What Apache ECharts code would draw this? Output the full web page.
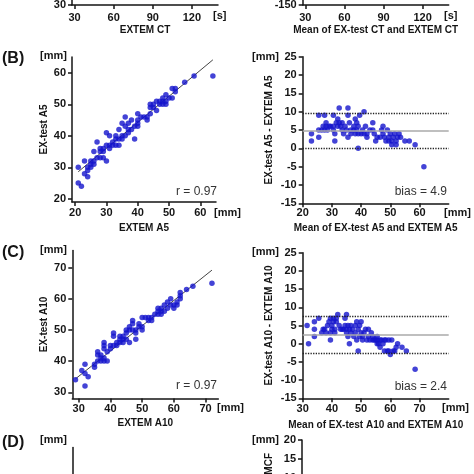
<!DOCTYPE html>
<html>
<head>
<meta charset="utf-8">
<script src="https://cdn.jsdelivr.net/npm/echarts@6/dist/echarts.min.js"></script>
<style>
html, body { margin: 0; padding: 0; background: #fff; }
#main { width: 474px; height: 474px; }
</style>
</head>
<body>
<div id="main"></div>
<script>
// (B) EX-test A5 vs EXTEM A5, [EXTEM, EX-test]
var scatterA5 = [[21,30],[21,25],[22,24],[23,32],[23,28],[24,27],[24,29],[24,30],[25,30],[25,31],[25,32],
    [26,31],[26,32],[26,35],[27,33],[27,38],[28,33],[28,35],[28,36],[29,33],[29,35],[29,36],[30,32],[30,37],
    [30,41],[31,36],[31,37],[31,40],[32,37],[32,38],[33,37],[33,39],[33,40],[34,37],[34,39],[34,42],[35,39],
    [35,40],[35,44],[36,40],[36,43],[36,46],[37,41],[37,42],[37,44],[38,42],[38,45],[39,39],[39,43],[40,43],
    [40,44],[40,45],[40,47],[41,46],[42,46],[43,45],[43,46],[44,47],[44,49],[44,50],[45,49],[45,50],[46,48],
    [46,51],[47,50],[47,51],[48,50],[48,51],[48,52],[49,50],[49,51],[49,53],[50,52],[51,52],[51,55],[52,54],
    [52,55],[55,57],[58,59],[64,59]];
var fitA5 = [[21, 28.6], [64, 64.1]];
// Bland-Altman A5, [mean, difference]
var blandA5 = [[23,4],[23,2],[25.5,9],[25.5,3],[25.5,5],[26.5,5],[27,6],[27.5,9],[27.5,5],[28,6],[28,7],
    [28.5,5],[29,6],[29.5,6],[30.5,9],[30.5,5],[30.5,6],[31,4],[31,2],[31.5,7],[32,6],[32,8],[32.5,11],
    [32.5,7],[33,6],[33.5,7],[33.5,5],[34,4],[34.5,6],[35,5],[35.5,3],[35.5,11],[35.5,9],[36,7],[36.5,5],
    [36.5,4],[37.5,6],[37.5,5],[38,4],[38,8],[38.5,5],[38.5,7],[39,4],[39,6],[39.5,9],[39,0],[40,4],[40.5,5],
    [41,4],[41,10],[41.5,6],[42,4],[42,3],[43,5],[44,5],[44,7],[44.5,4],[45,2],[45.5,3],[46.5,3],[47,5],
    [47.5,4],[47.5,6],[48,3],[48.5,2],[49,5],[49.5,3],[49.5,2],[50,4],[50.5,2],[50.5,1],[51,3],[51.5,4],
    [52,2],[52,1],[52.5,3],[53,4],[53.5,3],[55,2],[56.5,2],[58.5,1],[61.5,-5]];
var limitsA5 = [9.7, 4.9, 0.1];   // upper LoA, bias, lower LoA

// (C) EX-test A10 vs EXTEM A10
var scatterA10 = [[29,34],[31,37],[32,39],[32,32],[32,36],[33,35],[35,38],[35,39],[36,40],[36,42],[36,43],
    [37,40],[37,41],[37,42],[38,40],[38,44],[38,45],[38,46],[38,41],[39,43],[39,40],[40,44],[40,45],[41,45],
    [41,49],[41,48],[42,45],[42,46],[43,46],[43,47],[43,48],[44,46],[44,47],[44,48],[45,47],[45,50],[45,49],
    [46,46],[46,50],[46,51],[47,53],[47,52],[47,50],[48,49],[48,50],[48,47],[49,51],[49,52],[50,50],[50,51],
    [50,54],[51,54],[52,53],[52,54],[53,53],[53,54],[54,55],[55,55],[55,56],[55,57],[56,55],[56,56],[56,57],
    [57,58],[57,56],[58,57],[58,59],[59,58],[59,60],[60,57],[60,58],[61,58],[61,59],[62,60],[62,61],[62,62],
    [64,63],[66,64],[72,65]];
var fitA10 = [[29, 34.3], [72, 69.2]];
var blandA10 = [[31.5,5],[32,0],[34,6],[34,4],[34,2],[35.5,7],[36.5,3],[37,4],[37.5,4],[38,3],[38.5,5],
    [39,6],[39.5,7],[39.5,1],[39.5,3],[40,4],[40,5],[40.5,7],[40.5,6],[41,3],[41,4],[41.5,6],[41.5,7],[42,8],
    [42.5,5],[43,4],[43.5,4],[44,4],[44.5,5],[44.5,7],[45,8],[45,3],[45,4],[45.5,2],[45.5,5],[46,4],[46,0],
    [46.5,3],[46.5,5],[47,4],[47.5,2],[48,5],[48,3],[48.5,1],[48.5,6],[49,-2],[49,4],[49.5,2],[49.5,5],[50,3],
    [50,6],[50.5,2],[50.5,1],[51,3],[51.5,4],[52,1],[52.5,4],[52.5,2],[53,1],[53.5,3],[54,1],[54,2],[54.5,1],
    [55,1],[55.5,0],[55.5,1],[55.5,2],[56,0],[56.5,1],[56.5,-1],[57,1],[57.5,0],[58,1],[58,-2],[58.5,1],
    [59,-2],[59.5,1],[59.5,-2],[60,-3],[60.5,1],[61,-2],[61.5,-2],[62,-1],[62.5,0],[64,-1],[65.5,-2],[68.5,-7]];
var limitsA10 = [7.5, 2.4, -2.7];

// tick labels
var ticksCT = [30, 60, 90, 120];
var ticksA5 = [20, 30, 40, 50, 60];
var ticksA10 = [30, 40, 50, 60, 70];
var ticksDiff = [-15, -10, -5, 0, 5, 10, 15, 20, 25];
var ticksDiffD = [-20, -15, -10, -5, 0, 5, 10, 15, 20];

var FONT = '"Liberation Sans", Arial, sans-serif';
var INK = '#151515';
var DOT = '#1414cc';

function valueAxis(gridIndex, min, max, ticks, extra) {
    var axis = {
        type: 'value', gridIndex: gridIndex, min: min, max: max,
        splitLine: {show: false},
        axisLine: {show: true, onZero: false, lineStyle: {color: INK, width: 1.5}},
        axisTick: {show: true, inside: false, length: 4, customValues: ticks, lineStyle: {color: INK, width: 1.5}},
        axisLabel: {customValues: ticks, margin: 6, fontFamily: FONT, fontWeight: 'bold', fontSize: 11, color: INK},
        nameTextStyle: {fontFamily: FONT, fontWeight: 'bold', fontSize: 10, color: INK}
    };
    for (var k in extra) {
        if (k == 'margin') axis.axisLabel.margin = extra[k];
        else axis[k] = extra[k];
    }
    return axis;
}

function xTitle(text, gap) {
    return {name: text, nameLocation: 'middle', nameGap: gap};
}
function yTitle(text, gap) {
    return {name: text, nameLocation: 'middle', nameRotate: 90, nameGap: gap};
}

function dots(ix, data) {
    return {type: 'scatter', xAxisIndex: ix, yAxisIndex: ix, data: data, symbolSize: 5.5,
        itemStyle: {color: DOT}, z: 3};
}
function fitLine(ix, data) {
    return {type: 'line', xAxisIndex: ix, yAxisIndex: ix, data: data, showSymbol: false,
        lineStyle: {color: '#444', width: 1}, z: 2};
}
function limitLines(limits) {
    var dotted = {type: 'dotted', color: '#222', width: 1.3};
    return {silent: true, symbol: 'none', label: {show: false},
        data: [{yAxis: limits[0], lineStyle: dotted},
               {yAxis: limits[1], lineStyle: {type: 'solid', color: '#aaa', width: 1.5}},
               {yAxis: limits[2], lineStyle: dotted}]};
}

function label(text, x, y, size, weight) {
    return {type: 'text', left: x, top: y,
        style: {text: text, fill: INK, font: (weight || 'bold') + ' ' + size + 'px ' + FONT}};
}
function labelRight(text, right, y) {
    return {type: 'text', right: right, top: y,
        style: {text: text, fill: '#333', font: 'normal 12px ' + FONT}};
}

function grid(left, top, width, height) {
    return {left: left, top: top, width: width, height: height, containLabel: false, outerBoundsMode: 'none'};
}

var grids = [
    grid(72, -141, 146, 146),       // A left (cut)
    grid(302.7, -141, 146, 146),    // A right (cut)
    grid(72, 57, 144, 145),         // B left
    grid(302.7, 56.7, 146, 146.6),  // B right
    grid(72.3, 250.5, 146, 148),    // C left
    grid(302.7, 252.7, 146, 145.6), // C right
    grid(72.3, 447.5, 146, 148),    // D left (cut)
    grid(302, 440, 146, 152.6)      // D right (cut)
];

var xAxes = [
    valueAxis(0, 28, 140, ticksCT, Object.assign(xTitle('EXTEM CT', 20), {margin: 7})),
    valueAxis(1, 28, 140, ticksCT, Object.assign(xTitle('Mean of EX-test CT and EXTEM CT', 20), {margin: 7})),
    valueAxis(2, 19, 65, ticksA5, Object.assign(xTitle('EXTEM A5', 21), {margin: 5})),
    valueAxis(3, 20, 70, ticksA5, Object.assign(xTitle('Mean of EX-test A5 and EXTEM A5', 20), {margin: 4})),
    valueAxis(4, 28, 74, ticksA10, Object.assign(xTitle('EXTEM A10', 19.5), {margin: 5})),
    valueAxis(5, 30, 80, ticksA10, Object.assign(xTitle('Mean of EX-test A10 and EXTEM A10', 21.5), {margin: 5})),
    valueAxis(6, 30, 80, ticksA10, {}),
    valueAxis(7, 30, 80, ticksA10, {})
];
var yAxes = [
    valueAxis(0, 30, 150, [30, 60, 90, 120, 150], {}),
    valueAxis(1, -150, 150, [-150, -100, -50, 0, 50, 100, 150], {}),
    valueAxis(2, 19, 65, ticksA5, yTitle('EX-test A5', 23)),
    valueAxis(3, -15, 25, ticksDiff, yTitle('EX-test A5 - EXTEM A5', 28)),
    valueAxis(4, 28, 75.5, ticksA10, yTitle('EX-test A10', 23)),
    valueAxis(5, -15, 25, ticksDiff, yTitle('EX-test A10 - EXTEM A10', 28)),
    valueAxis(6, 35, 85, [40, 50, 60, 70], {}),
    valueAxis(7, -20, 20, ticksDiffD, yTitle('EX-test MCF - EXTEM MCF', 28))
];

var baA5 = dots(3, blandA5);
baA5.markLine = limitLines(limitsA5);
var baA10 = dots(5, blandA10);
baA10.markLine = limitLines(limitsA10);

var option = {
    animation: false,
    backgroundColor: '#fff',
    grid: grids,
    xAxis: xAxes,
    yAxis: yAxes,
    series: [
        fitLine(2, fitA5), dots(2, scatterA5), baA5,
        fitLine(4, fitA10), dots(4, scatterA10), baA10
    ],
    graphic: [
        label('[s]', 213, 10, 11), label('[s]', 444, 10, 11),
        label('(B)', 2, 51, 16), label('[mm]', 40, 50, 11), label('[mm]', 214, 207, 11),
        label('[mm]', 252, 51, 11), label('[mm]', 444, 207, 11),
        labelRight('r = 0.97', 257, 186), labelRight('bias = 4.9', 27, 186),
        label('(C)', 2, 245, 16), label('[mm]', 40, 244, 11), label('[mm]', 217, 402, 11),
        label('[mm]', 252, 246, 11), label('[mm]', 442, 402, 11),
        labelRight('r = 0.97', 257, 380), labelRight('bias = 2.4', 27, 381),
        label('(D)', 2, 435, 16), label('[mm]', 40, 434, 11), label('[mm]', 252, 434, 11)
    ]
};

var chart = echarts.init(document.getElementById('main'), null, {renderer: 'canvas'});
chart.setOption(option);
</script>
</body>
</html>
